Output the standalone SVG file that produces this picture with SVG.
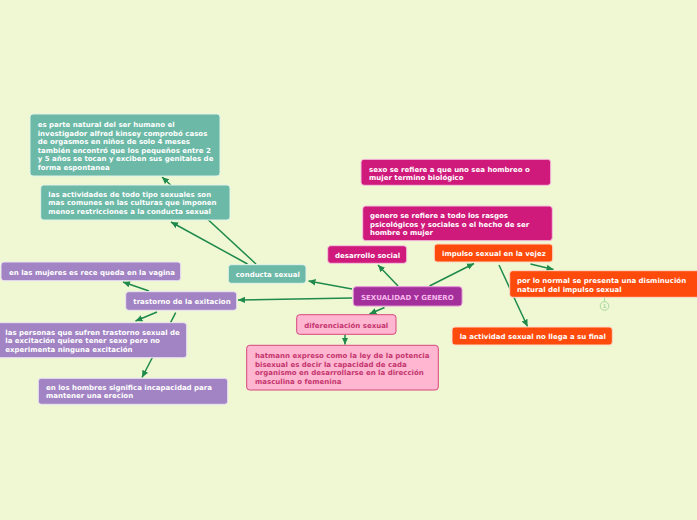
<svg xmlns="http://www.w3.org/2000/svg" width="697" height="520" viewBox="0 0 697 520">
<style>
.t{font-family:"DejaVu Sans","Verdana",sans-serif;font-weight:bold;font-size:7px;fill:#ffffff}
.teal{fill:#6bb9a6;stroke:#e4f3ec;stroke-width:1}
.purp{fill:#a283c3;stroke:#ece4f4;stroke-width:1}
.mag{fill:#cf1a7c;stroke:#f4c4de;stroke-width:1}
.ora{fill:#fe4a0a;stroke:#ffd6c6;stroke-width:1}
.root{fill:#a3309a;stroke:#e592d9;stroke-width:1}
.pink{fill:#ffb6d1;stroke:#d6467c;stroke-width:1}
.rt{fill:#f6b9ec}
.pt{fill:#c4356e}
.c{stroke:#1f8a4c;stroke-width:1.5;fill:none;marker-end:url(#ah)}
</style>
<defs>
<marker id="ah" markerUnits="userSpaceOnUse" markerWidth="8" markerHeight="8" viewBox="0 0 8 8" refX="7" refY="4" orient="auto">
<path d="M0,0.8 L7,4 L0,7.2 Z" fill="#1f8a4c"/>
</marker>
</defs>
<rect width="697" height="520" fill="#eff8d3"/>
<g id="connectors">
<line class="c" x1="352" y1="289" x2="308.5" y2="281"/>
<line class="c" x1="352" y1="298" x2="238" y2="300"/>
<line class="c" x1="398" y1="286" x2="378" y2="265"/>
<line class="c" x1="429.5" y1="286" x2="474" y2="263.5"/>
<line class="c" x1="384.5" y1="307.5" x2="369.5" y2="314"/>
<line class="c" x1="345" y1="335" x2="345" y2="344.5"/>
<line class="c" x1="247.5" y1="264" x2="171" y2="222"/>
<line class="c" x1="256" y1="264" x2="162" y2="177"/>
<line class="c" x1="149" y1="291" x2="123" y2="282"/>
<line class="c" x1="157" y1="312" x2="135.5" y2="321"/>
<line class="c" x1="175.7" y1="312.7" x2="142" y2="377.5"/>
<line class="c" x1="530.5" y1="264" x2="553.5" y2="269.5"/>
<line class="c" x1="499" y1="265" x2="527.5" y2="326.5"/>
</g>
<g id="n-espartenatural">
<rect class="teal" x="30" y="114" width="190" height="62" rx="3"/>
<text class="t" x="37.7" y="127.2">es parte natural del ser humano el</text>
<text class="t" x="37.7" y="135.7">investigador alfred kinsey comprobó casos</text>
<text class="t" x="37.7" y="144.2">de orgasmos en niños de solo 4 meses</text>
<text class="t" x="37.7" y="152.7">también encontró que los pequeños entre 2</text>
<text class="t" x="37.7" y="161.2">y 5 años se tocan y exciben sus genitales de</text>
<text class="t" x="37.7" y="169.7">forma espontanea</text>
</g>
<g id="n-actividades">
<rect class="teal" x="40.7" y="185" width="189.3" height="35" rx="3"/>
<text class="t" x="48.3" y="196.8">las actividades de todo tipo sexuales son</text>
<text class="t" x="48.3" y="205.3">mas comunes en las culturas que imponen</text>
<text class="t" x="48.3" y="213.8">menos restricciones a la conducta sexual</text>
</g>
<g id="n-mujeres">
<rect class="purp" x="1" y="262" width="179.7" height="18.7" rx="3"/>
<text class="t" x="9" y="274.5">en las mujeres es rece queda en la vagina</text>
</g>
<g id="n-conducta">
<rect class="teal" x="228.3" y="264.7" width="77.7" height="18.6" rx="3"/>
<text class="t" x="235.7" y="276.8">conducta sexual</text>
</g>
<g id="n-trastorno">
<rect class="purp" x="125.7" y="291.7" width="111" height="18.6" rx="3"/>
<text class="t" x="133.3" y="303.8">trastorno de la exitacion</text>
</g>
<g id="n-personas">
<rect class="purp" x="-3" y="322.7" width="189.7" height="35" rx="3"/>
<text class="t" x="5.3" y="334.8">las personas que sufren trastorno sexual de</text>
<text class="t" x="5.3" y="343.3">la excitación quiere tener sexo pero no</text>
<text class="t" x="5.3" y="351.8">experimenta ninguna excitación</text>
</g>
<g id="n-hombres">
<rect class="purp" x="38.3" y="378.3" width="189.4" height="26" rx="3"/>
<text class="t" x="46" y="389.8">en los hombres significa incapacidad para</text>
<text class="t" x="46" y="398.3">mantener una erecion</text>
</g>
<g id="n-sexo">
<rect class="mag" x="361" y="159.3" width="189.7" height="26" rx="3"/>
<text class="t" x="369" y="171.5">sexo se refiere a que uno sea hombreo o</text>
<text class="t" x="369" y="180">mujer termino biológico</text>
</g>
<g id="n-genero">
<rect class="mag" x="362.7" y="206" width="189.6" height="34.7" rx="3"/>
<text class="t" x="370" y="218.2">genero se refiere a todo los rasgos</text>
<text class="t" x="370" y="226.7">psicológicos y sociales o el hecho de ser</text>
<text class="t" x="370" y="235.2">hombre o mujer</text>
</g>
<g id="n-desarrollo">
<rect class="mag" x="327.7" y="245.7" width="79" height="17.6" rx="3"/>
<text class="t" x="335" y="258.2">desarrollo social</text>
</g>
<g id="n-impulso">
<rect class="ora" x="434.3" y="244" width="118.4" height="18" rx="3"/>
<text class="t" x="442" y="256.2">impulso sexual en la vejez</text>
</g>
<g id="n-root">
<rect class="root" x="353.3" y="286.7" width="108.7" height="19.3" rx="3"/>
<text class="t rt" x="361" y="299.5">SEXUALIDAD Y GENERO</text>
</g>
<g id="n-diferenciacion">
<rect class="pink" x="296.7" y="314.7" width="99.3" height="19.6" rx="3"/>
<text class="t pt" x="304.3" y="327.8">diferenciación sexual</text>
</g>
<g id="n-hatmann">
<rect class="pink" x="246.7" y="345.3" width="191.6" height="44.7" rx="3"/>
<text class="t pt" x="255" y="358.2">hatmann expreso como la ley de la potencia</text>
<text class="t pt" x="255" y="366.7">bisexual es decir la capacidad de cada</text>
<text class="t pt" x="255" y="375.2">organismo en desarrollarse en la dirección</text>
<text class="t pt" x="255" y="383.7">masculina o femenina</text>
</g>
<g id="n-pornormal">
<rect class="ora" x="509.7" y="270.7" width="200" height="26.6" rx="3"/>
<text class="t" x="517" y="283.2">por lo normal se presenta una disminución</text>
<text class="t" x="517" y="291.7">natural del impulso sexual</text>
<line x1="604.5" y1="297.5" x2="604.5" y2="301.5" stroke="#a8d8a0" stroke-width="1"/>
<circle cx="604.5" cy="306" r="4.3" fill="none" stroke="#a8d8a0" stroke-width="1"/>
<text x="604.5" y="308.2" text-anchor="middle" style="font-family:'DejaVu Sans',sans-serif;font-size:5px;font-weight:bold;fill:#a8d8a0">1</text>
</g>
<g id="n-actividadfinal">
<rect class="ora" x="452" y="327" width="160.3" height="18" rx="3"/>
<text class="t" x="459.7" y="339.2">la actividad sexual no llega a su final</text>
</g>
</svg>
